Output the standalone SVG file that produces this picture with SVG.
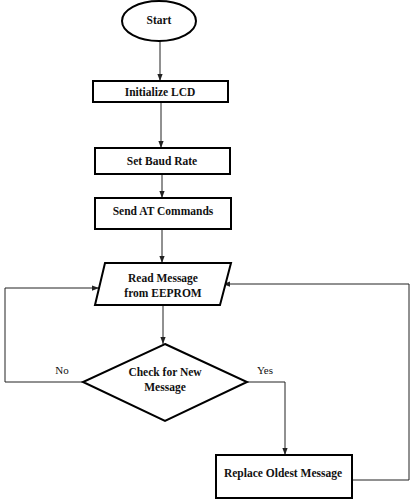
<svg xmlns="http://www.w3.org/2000/svg" width="417" height="502" viewBox="0 0 417 502">
<style>
.shape{fill:#fff;stroke:#000;stroke-width:2}
.lbl{font-family:"Liberation Serif","Times New Roman",serif;font-weight:bold;font-size:11.5px;fill:#111;text-anchor:middle}
.small{font-family:"Liberation Serif","Times New Roman",serif;font-size:11px;fill:#111;text-anchor:middle}
.conn{fill:none;stroke:#222;stroke-width:1}
</style>
<defs>
<marker id="arr" viewBox="0 0 8 8" refX="8" refY="4" markerWidth="7" markerHeight="7" orient="auto" markerUnits="userSpaceOnUse">
<path d="M0,1 L8,4 L0,7 Z" fill="#222"/>
</marker>
</defs>
<rect width="417" height="502" fill="#fff"/>
<g id="connectors">
<line class="conn" x1="160" y1="41" x2="160" y2="81" marker-end="url(#arr)"/>
<line class="conn" x1="161" y1="102" x2="161" y2="148" marker-end="url(#arr)"/>
<line class="conn" x1="162" y1="174" x2="162" y2="198" marker-end="url(#arr)"/>
<line class="conn" x1="162" y1="229" x2="162" y2="263" marker-end="url(#arr)"/>
<line class="conn" x1="163" y1="305" x2="163" y2="344" marker-end="url(#arr)"/>
<polyline class="conn" points="83,382 5,382 5,288 99,288" marker-end="url(#arr)"/>
<polyline class="conn" points="247,382 285,382 285,455" marker-end="url(#arr)"/>
<polyline class="conn" points="352,480 409,480 409,284 223,284" marker-end="url(#arr)"/>
<text class="small" x="62" y="374">No</text>
<text class="small" x="265" y="374">Yes</text>
</g>
<g id="start">
<ellipse class="shape" cx="159" cy="21" rx="37" ry="20"/>
<text class="lbl" x="159" y="24">Start</text>
</g>
<g id="init-lcd">
<rect class="shape" x="93" y="81" width="135" height="21"/>
<text class="lbl" x="160" y="95.5">Initialize LCD</text>
</g>
<g id="baud">
<rect class="shape" x="95" y="148" width="135" height="26"/>
<text class="lbl" x="162" y="164.5">Set Baud Rate</text>
</g>
<g id="at">
<rect class="shape" x="95" y="198" width="136" height="31"/>
<text class="lbl" x="163" y="214.5">Send AT Commands</text>
</g>
<g id="read">
<polygon class="shape" points="105,263 231,263 220,305 95,305"/>
<text class="lbl" x="163" y="282">Read Message</text>
<text class="lbl" x="163" y="296.5">from EEPROM</text>
</g>
<g id="check">
<polygon class="shape" points="165,344 247,382 165,421 83,382"/>
<text class="lbl" x="165" y="376">Check for New</text>
<text class="lbl" x="165" y="391">Message</text>
</g>
<g id="replace">
<rect class="shape" x="216" y="455" width="136" height="43"/>
<text class="lbl" x="283" y="477">Replace Oldest Message</text>
</g>
</svg>
